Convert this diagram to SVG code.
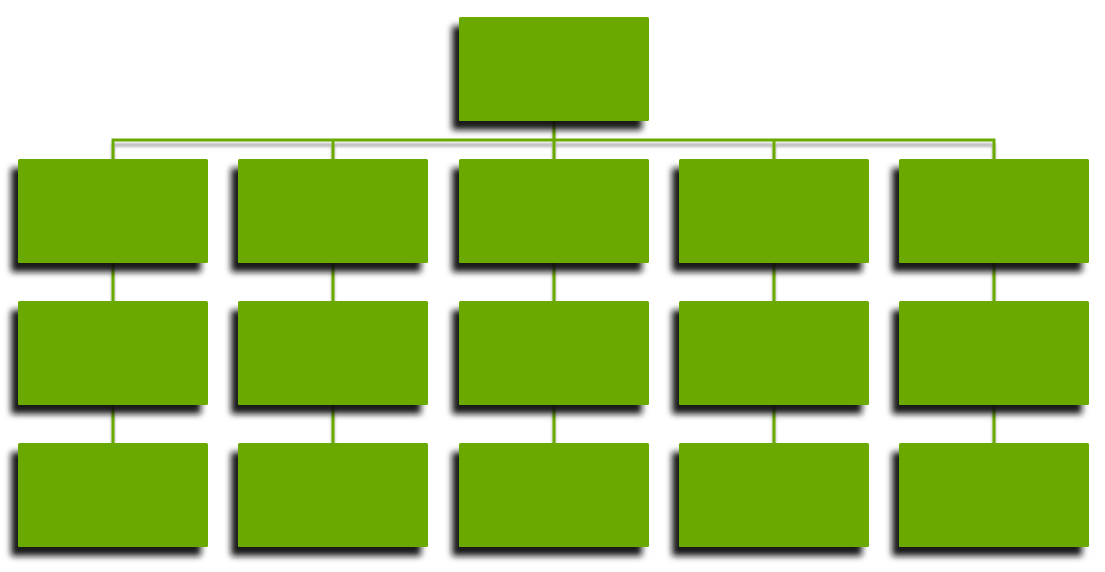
<svg xmlns="http://www.w3.org/2000/svg" width="1105" height="572" viewBox="0 0 1105 572">
<style>
.box{fill:#6baa06;filter:url(#sh)}
.ln{fill:none;stroke:#6baa06;stroke-width:3;filter:url(#lsh)}
</style>
<defs>
<filter id="sh" x="-20%" y="-20%" width="140%" height="150%">
<feGaussianBlur in="SourceAlpha" stdDeviation="3"/>
<feOffset dx="-7" dy="9" result="b"/>
<feFlood flood-color="#111" flood-opacity="0.95"/>
<feComposite in2="b" operator="in"/>
<feMerge><feMergeNode/><feMergeNode in="SourceGraphic"/></feMerge>
</filter>
<filter id="lsh" x="-5%" y="-50%" width="110%" height="200%">
<feGaussianBlur in="SourceAlpha" stdDeviation="1.5"/>
<feOffset dx="0" dy="5" result="b"/>
<feFlood flood-color="#000" flood-opacity="0.35"/>
<feComposite in2="b" operator="in"/>
<feMerge><feMergeNode/><feMergeNode in="SourceGraphic"/></feMerge>
</filter>
</defs>
<g id="connectors">
<path class="ln" d="M554 121V140M113 159V140H994V159M333 140V159M554 140V159M774 140V159"/>
<path class="ln" d="M113 263V301M333 263V301M554 263V301M774 263V301M994 263V301"/>
<path class="ln" d="M113 405V443M333 405V443M554 405V443M774 405V443M994 405V443"/>
</g>
<g id="n0"><rect class="box" x="459" y="17" width="190" height="104" rx="1.5"/></g>
<g id="n1"><rect class="box" x="18" y="159" width="190" height="104" rx="1.5"/></g>
<g id="n2"><rect class="box" x="238" y="159" width="190" height="104" rx="1.5"/></g>
<g id="n3"><rect class="box" x="459" y="159" width="190" height="104" rx="1.5"/></g>
<g id="n4"><rect class="box" x="679" y="159" width="190" height="104" rx="1.5"/></g>
<g id="n5"><rect class="box" x="899" y="159" width="190" height="104" rx="1.5"/></g>
<g id="n6"><rect class="box" x="18" y="301" width="190" height="104" rx="1.5"/></g>
<g id="n7"><rect class="box" x="238" y="301" width="190" height="104" rx="1.5"/></g>
<g id="n8"><rect class="box" x="459" y="301" width="190" height="104" rx="1.5"/></g>
<g id="n9"><rect class="box" x="679" y="301" width="190" height="104" rx="1.5"/></g>
<g id="n10"><rect class="box" x="899" y="301" width="190" height="104" rx="1.5"/></g>
<g id="n11"><rect class="box" x="18" y="443" width="190" height="104" rx="1.5"/></g>
<g id="n12"><rect class="box" x="238" y="443" width="190" height="104" rx="1.5"/></g>
<g id="n13"><rect class="box" x="459" y="443" width="190" height="104" rx="1.5"/></g>
<g id="n14"><rect class="box" x="679" y="443" width="190" height="104" rx="1.5"/></g>
<g id="n15"><rect class="box" x="899" y="443" width="190" height="104" rx="1.5"/></g>
</svg>
